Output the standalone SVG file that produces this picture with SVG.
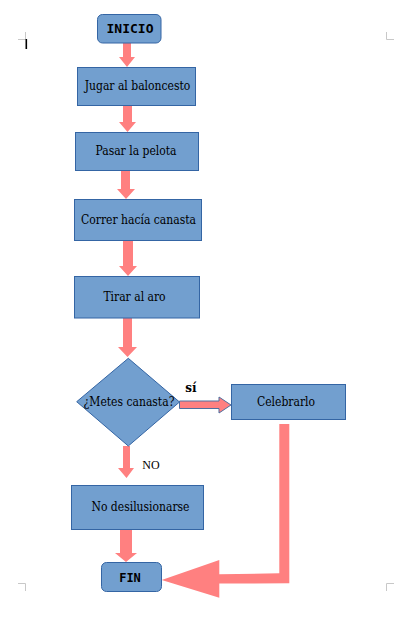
<svg xmlns="http://www.w3.org/2000/svg" width="407" height="625" viewBox="0 0 407 625">
<style>
.box{fill:#729fcf;stroke:#3465a4;stroke-width:1}
.arr{fill:#ff8080}
.txt{font-family:"DejaVu Serif Condensed","DejaVu Serif","Liberation Serif",serif;font-size:12px;fill:#000;text-anchor:middle}
.mono{font-family:"DejaVu Sans Mono","Liberation Mono",monospace;font-weight:bold;fill:#000;text-anchor:middle}
.mark{fill:none;stroke:#c8c8c8;stroke-width:1}
</style>
<rect width="407" height="625" fill="#fff"/>
<g id="marks">
<path class="mark" d="M25.5 32V39.5H18"/>
<path class="mark" d="M386.5 32V39.5H394"/>
<path class="mark" d="M18 583.5H25.5V591"/>
<path class="mark" d="M394 583.5H386.5V591"/>
<rect x="25.5" y="39" width="1.6" height="10" fill="#000"/>
</g>
<g id="connectors">
<polygon class="arr" points="123,43 131,43 131,57 135,57 127,67 119,57 123,57"/>
<polygon class="arr" points="123,105 132,105 132,122 136,122 127.5,132 119,122 123,122"/>
<polygon class="arr" points="121,170 130,170 130,189 135,189 126,199 117,189 121,189"/>
<polygon class="arr" points="123,241 133,241 133,266 137,266 128,276 119,266 123,266"/>
<polygon class="arr" points="123,318 132,318 132,347 137,347 127.5,357 118,347 123,347"/>
<polygon class="arr" points="179.5,401 219,401 219,397 231,405 219,413 219,408.5 179.5,408.5" stroke="#4f6f9f" stroke-width="1"/>
<polygon class="arr" points="123,446 130,446 130,468 134,468 126.5,478 118,468 123,468"/>
<polygon class="arr" points="120,529 132,529 132,553 137,553 126,562 115,553 120,553"/>
<polygon class="arr" points="279.3,424 289.3,424 289.3,583.3 219.3,583.6 219.3,597.7 161.7,580 219.3,560 219.3,574.3 279.3,573.3"/>
<text x="191" y="392" style="font-family:'DejaVu Serif','Liberation Serif',serif;font-weight:bold;font-size:12px;text-anchor:middle">sí</text>
<text x="151" y="469" style="font-family:'Liberation Serif','DejaVu Serif',serif;font-size:12px;text-anchor:middle">NO</text>
</g>
<g id="inicio">
<rect class="box" x="97.5" y="14.5" width="63.5" height="28.5" rx="5"/>
<text class="mono" x="130" y="33" font-size="13">INICIO</text>
</g>
<g id="jugar">
<rect class="box" x="77.5" y="67.5" width="118" height="38"/>
<text class="txt" x="137.5" y="90">Jugar al baloncesto</text>
</g>
<g id="pasar">
<rect class="box" x="75.5" y="132.5" width="123" height="38"/>
<text class="txt" x="136" y="155">Pasar la pelota</text>
</g>
<g id="correr">
<rect class="box" x="74.5" y="199.5" width="127" height="41"/>
<text class="txt" x="138.5" y="224">Correr hacía canasta</text>
</g>
<g id="tirar">
<rect class="box" x="74.5" y="276.5" width="125" height="41.5"/>
<text class="txt" x="134.5" y="301">Tirar al aro</text>
</g>
<g id="metes">
<polygon class="box" points="128.3,358.3 179.5,402 128.3,446 76.7,401.7"/>
<text class="txt" x="129" y="406">¿Metes canasta?</text>
</g>
<g id="celebrarlo">
<rect class="box" x="231.5" y="384.5" width="114" height="35"/>
<text class="txt" x="286" y="406">Celebrarlo</text>
</g>
<g id="desilusion">
<rect class="box" x="71.5" y="485.5" width="132" height="44"/>
<text class="txt" x="140.5" y="511">No desilusionarse</text>
</g>
<g id="fin">
<rect class="box" x="101.5" y="562.5" width="60" height="29" rx="5"/>
<text class="mono" x="130" y="582" font-size="12">FIN</text>
</g>
</svg>
